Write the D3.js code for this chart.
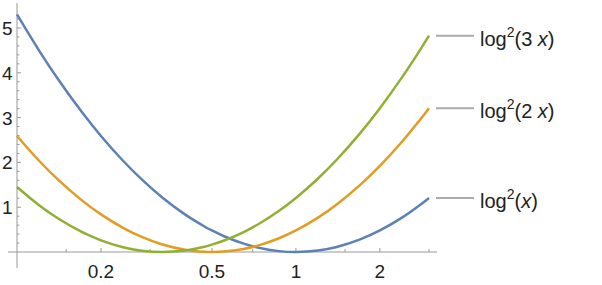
<!DOCTYPE html>
<html><head><meta charset="utf-8">
<script src="https://cdn.jsdelivr.net/npm/d3@7"></script>
<style>body{margin:0;background:#fff}svg{display:block}text{font-family:"Liberation Sans",Arial,sans-serif}</style>
</head><body>
<svg id="c" width="602" height="285"></svg>
<script>
const xs = [0.1,0.12,0.14,0.17,0.2,0.24,0.28,0.33,0.4,0.47,0.5,0.55,0.65,0.75,0.87,1,1.2,1.4,1.7,2,2.4,2.8,3];
const logX  = [5.3019,4.4955,3.8656,3.1398,2.5903,2.0367,1.6204,1.2291,0.8396,0.5701,0.4805,0.3574,0.1856,0.0828,0.0194,0,0.0332,0.1132,0.2816,0.4805,0.7664,1.0601,1.2069];
const log2X = [2.5903,2.0367,1.6204,1.1638,0.8396,0.5387,0.3362,0.1727,0.0498,0.0038,0,0.0091,0.0688,0.1644,0.3068,0.4805,0.7664,1.0601,1.4976,1.9218,2.4606,2.9679,3.2104];
const log3X = [1.4496,1.0438,0.7526,0.4534,0.2609,0.1079,0.0304,0.0001,0.0332,0.1181,0.1644,0.2508,0.4460,0.6576,0.9204,1.2069,1.6408,2.0595,2.6544,3.2104,3.8970,4.5294,4.8278];
const seriesNames = ["x","2 x","3 x"];
const colors = ["#5E81B5","#E19C24","#8FB032"];
const xMajor = [0.2,0.5,1,2];
const xMinor = [0.15,0.3,0.7,1.5,3];
const yMajor = [1,2,3,4,5];

const svg = d3.select("#c");
const x = d3.scaleLog().domain([0.1,3]).range([17,429]);
const y = d3.scaleLinear().domain([0,5]).range([252,28]);
const axisCol = "#999";

// x axis
svg.append("line").attr("x1",8).attr("x2",437).attr("y1",y(0)).attr("y2",y(0)).attr("stroke",axisCol).attr("stroke-width",1);
xMajor.concat(xMinor).forEach(v=>{
  svg.append("line").attr("x1",x(v)).attr("x2",x(v)).attr("y1",y(0)).attr("y2",y(0)-(xMajor.includes(v)?4:3)).attr("stroke",axisCol);
});
xMajor.forEach(v=>{
  svg.append("text").attr("x",x(v)).attr("y",278).attr("text-anchor","middle").attr("font-size",19).attr("fill","#222").text(String(v));
});
// y axis
svg.append("line").attr("x1",x(0.1)).attr("x2",x(0.1)).attr("y1",3).attr("y2",268).attr("stroke",axisCol);
d3.range(1,27).forEach(i=>{
  const v=i*0.2; const maj=(i%5===0);
  svg.append("line").attr("x1",x(0.1)).attr("x2",x(0.1)+(maj?4:2.5)).attr("y1",y(v)).attr("y2",y(v)).attr("stroke",axisCol);
});
yMajor.forEach(v=>{
  svg.append("text").attr("x",12.5).attr("y",y(v)+7).attr("text-anchor","end").attr("font-size",19).attr("fill","#222").text(v);
});

const line = d3.line().x(d=>x(d[0])).y(d=>y(d[1])).curve(d3.curveCatmullRom.alpha(0.5));
[logX,log2X,log3X].forEach((s,i)=>{
  svg.append("path").attr("d",line(xs.map((v,j)=>[v,s[j]]))).attr("fill","none").attr("stroke",colors[i]).attr("stroke-width",2.5);
  const yy = y(s[s.length-1]);
  svg.append("line").attr("x1",436).attr("x2",474).attr("y1",yy).attr("y2",yy).attr("stroke","#aaa").attr("stroke-width",2);
  const t = svg.append("text").attr("x",480).attr("y",yy+10).attr("font-size",20).attr("fill","#222");
  t.append("tspan").text("log");
  t.append("tspan").attr("font-size",14).attr("dy",-9).text("2");
  t.append("tspan").attr("dy",9).text("(");
  const parts = seriesNames[i].split(" ");
  if(parts.length===2){ t.append("tspan").text(parts[0]+" "); }
  t.append("tspan").attr("font-style","italic").text("x");
  t.append("tspan").text(")");
});
</script>
</body></html>
